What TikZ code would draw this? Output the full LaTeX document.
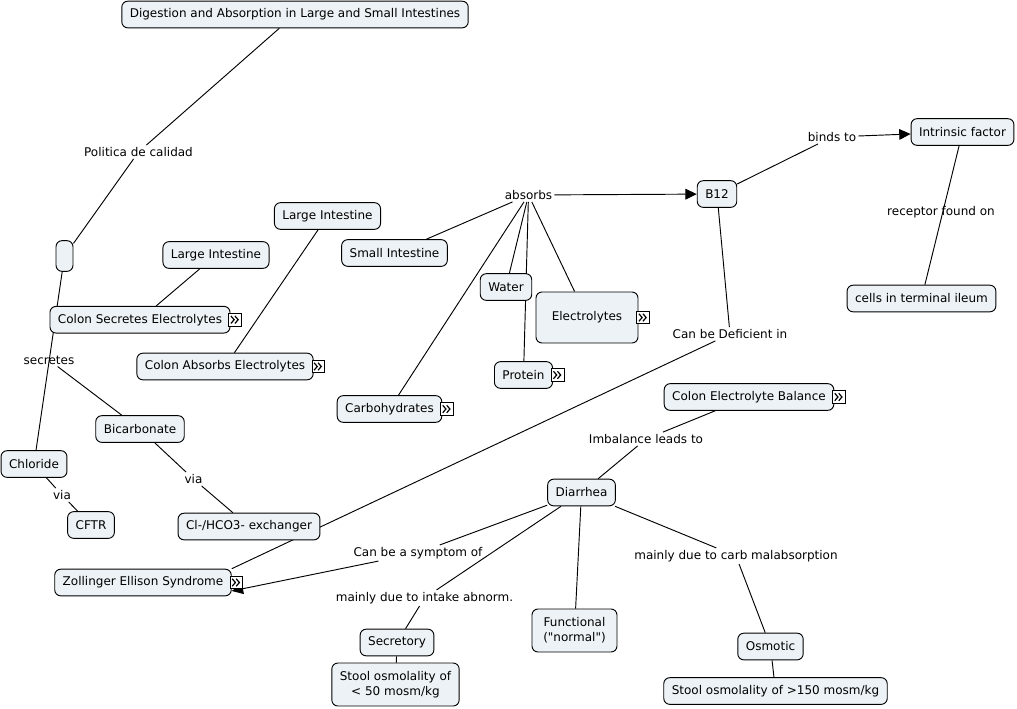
\documentclass[tikz,border=0pt]{standalone}
\usepackage{fontspec}
\setmainfont{DejaVu Sans}
\usepackage{tikz}
\usetikzlibrary{arrows.meta}
\pgfdeclarelayer{bg}
\pgfsetlayers{bg,main}
\definecolor{conceptfill}{RGB}{236,242,245}

\begin{document}
\begin{tikzpicture}[x=0.75pt,y=-0.75pt,>={Triangle[length=8.5pt,width=8pt]},
  concept/.style={draw=black,fill=conceptfill,rounded corners=4.5pt,line width=0.7pt,
    inner xsep=6pt,inner ysep=0pt,minimum height=20pt,align=center,
    font=\fontsize{9pt}{11pt}\selectfont},
  phrase/.style={inner sep=1.5pt,font=\fontsize{9pt}{11pt}\selectfont},
  link/.style={line width=0.7pt},
  linkicon/.style={draw=black,fill=white,line width=0.6pt,minimum size=9.5pt,inner sep=0pt,
    anchor=west,xshift=-1.5pt,
    path picture={
      \draw[line width=0.9pt] ([xshift=-3.2pt,yshift=2.8pt]path picture bounding box.center)
        -- ([xshift=-0.8pt]path picture bounding box.center)
        -- ([xshift=-3.2pt,yshift=-2.8pt]path picture bounding box.center);
      \draw[line width=0.9pt] ([xshift=-0.2pt,yshift=2.8pt]path picture bounding box.center)
        -- ([xshift=2.2pt]path picture bounding box.center)
        -- ([xshift=-0.2pt,yshift=-2.8pt]path picture bounding box.center);
    }}]
  \useasboundingbox (0,0) rectangle (1017,708);

  % ================= concepts =================
  \node[concept] (title) at (295,14.5) {Digestion and Absorption in Large and Small Intestines};
  \node[concept,inner xsep=0pt,minimum width=12.75pt,minimum height=23pt] (blank) at (64.5,256) {};
  \node[concept] (lileft) at (216,255) {Large Intestine};
  \node[concept] (litop) at (327.5,216) {Large Intestine};
  \node[concept] (sint) at (394.5,253) {Small Intestine};
  \node[concept] (csec) at (140,319.7) {Colon Secretes Electrolytes};
  \node[concept] (cabs) at (225,366.5) {Colon Absorbs Electrolytes};
  \node[concept] (water) at (506,287) {Water};
  \node[concept,minimum width=76.5pt,minimum height=38.25pt] (elec) at (587,317.5) {Electrolytes};
  \node[concept] (prot) at (523.5,375) {Protein};
  \node[concept] (carb) at (389.5,409) {Carbohydrates};
  \node[concept] (b12) at (717,194) {B12};
  \node[concept] (intr) at (962.5,132) {Intrinsic factor};
  \node[concept] (ileum) at (921.5,298.5) {cells in terminal ileum};
  \node[concept] (bic) at (140,429) {Bicarbonate};
  \node[concept] (chl) at (34,464) {Chloride};
  \node[concept] (cftr) at (91,525) {CFTR};
  \node[concept] (exch) at (249,526.5) {Cl-/HCO3- exchanger};
  \node[concept] (zes) at (143,582.5) {Zollinger Ellison Syndrome};
  \node[concept] (ceb) at (749,397) {Colon Electrolyte Balance};
  \node[concept] (diar) at (581.5,492.5) {Diarrhea};
  \node[concept] (secr) at (397,642.5) {Secretory};
  \node[concept,minimum height=32.25pt] (stoollow) at (395.5,684.5) {Stool osmolality of\\< 50 mosm/kg};
  \node[concept,minimum width=63.75pt,minimum height=32.25pt] (func) at (574.5,630.5)
    {Functional\\(\textquotedbl normal\textquotedbl)};
  \node[concept] (osm) at (770.5,646.5) {Osmotic};
  \node[concept] (stoolhigh) at (775.5,691) {Stool osmolality of >150 mosm/kg};

  % link icons
  \node[linkicon] (csecicon) at (csec.east) {};
  \node[linkicon] (cabsicon) at (cabs.east) {};
  \node[linkicon] (elecicon) at (elec.east) {};
  \node[linkicon] (proticon) at (prot.east) {};
  \node[linkicon] (carbicon) at (carb.east) {};
  \node[linkicon] (zesicon) at (zes.east) {};
  \node[linkicon] (cebicon) at (ceb.east) {};

  % ================= linking phrases =================
  \node[phrase] (calidad) at (138.5,152) {Politica de calidad};
  \node[phrase] (secretes) at (49,360) {secretes};
  \node[phrase] (viacl) at (62,495) {via};
  \node[phrase] (viabic) at (193.5,479) {via};
  \node[phrase] (absorbs) at (528.5,195) {absorbs};
  \node[phrase] (binds) at (832,137) {binds to};
  \node[phrase] (recep) at (941,212) {receptor found on};
  \node[phrase] (defic) at (730,334) {Can be Deficient in};
  \node[phrase] (imbal) at (646,439) {Imbalance leads to};
  \node[phrase] (sympt) at (418,553) {Can be a symptom of};
  \node[phrase] (intake) at (424.5,598) {mainly due to intake abnorm.};
  \node[phrase] (carbmal) at (736,556) {mainly due to carb malabsorption};

  % ================= connectors =================
  \begin{pgfonlayer}{bg}
    \draw[link] (title) -- (calidad);
    \draw[link] (calidad) -- (blank);
    \draw[link] (blank) -- (chl); % runs through "secretes"
    \draw[link] (secretes) -- (bic);
    \draw[link] (chl) -- (viacl);
    \draw[link] (viacl) -- (cftr);
    \draw[link] (bic) -- (viabic);
    \draw[link] (viabic) -- (exch);
    \draw[link] (lileft) -- (csec);
    \draw[link] (litop) -- (cabs);

    \draw[link] (sint) -- (absorbs);
    \draw[link,->] (absorbs) -- (b12);
    \draw[link] (absorbs) -- (water);
    \draw[link] (absorbs) -- (prot);
    \draw[link] (absorbs) -- (elec);
    \draw[link] (absorbs) -- (carb);

    \draw[link] (b12) -- (binds);
    \draw[link,->] (binds) -- (intr);
    \draw[link] (intr) -- (ileum); % runs through "receptor found on"
    \draw[link] (b12) -- (defic);
    \draw[link] (defic) -- (zes.north east);

    \draw[link] (ceb) -- (imbal);
    \draw[link] (imbal) -- (diar);
    \draw[link] (diar) -- (sympt);
    \draw[link,->] (sympt) -- ([yshift=4pt]zes.south east);
    \draw[link] (diar) -- (intake);
    \draw[link] (intake) -- (secr);
    \draw[link] (diar) -- (func);
    \draw[link] (diar) -- (carbmal);
    \draw[link] (carbmal) -- (osm);
    \draw[link] (secr) -- (stoollow);
    \draw[link] (osm) -- (stoolhigh);
  \end{pgfonlayer}

\end{tikzpicture}
\end{document}
